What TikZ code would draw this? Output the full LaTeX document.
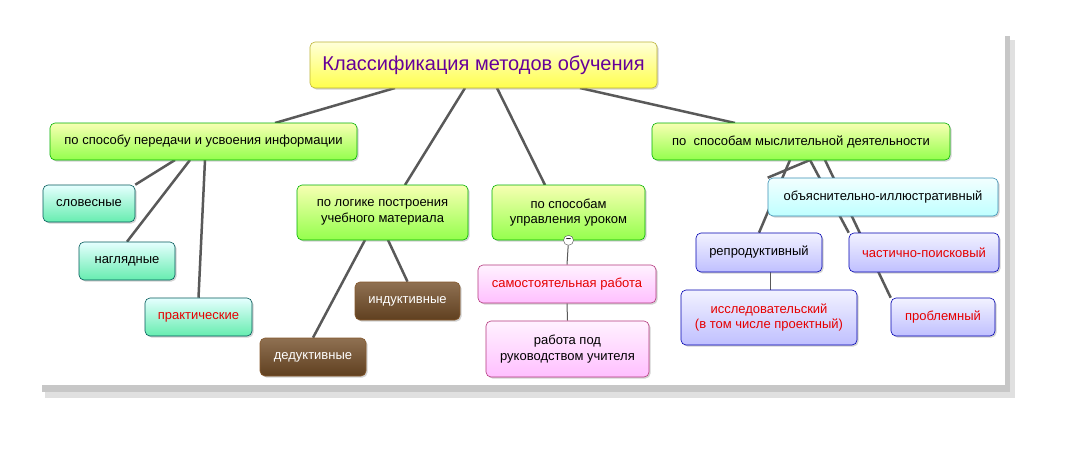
\documentclass[tikz,border=0pt]{standalone}
\usepackage{fontspec}
\setmainfont{Liberation Sans}
\usetikzlibrary{shadows,backgrounds}
\begin{document}
\begin{tikzpicture}[x=1pt,y=-1pt,
 bx/.style={rounded corners=5pt,draw=#1!70!black,line width=0.6pt,align=center,font=\fontsize{13}{15.5}\selectfont,drop shadow={shadow xshift=1.5pt,shadow yshift=-1.5pt,opacity=0.35},inner sep=0pt},
 grn/.style={bx=green,top color=green!10!yellow!30,bottom color=green!60!yellow!70},
 teal/.style={bx=teal,top color=cyan!10,bottom color=teal!40!cyan!60!green!60},
 brn/.style={bx=brown,top color=brown!60!black!80,bottom color=brown!50!black,text=white},
 pnk/.style={bx=magenta,top color=magenta!5,bottom color=magenta!25},
 lav/.style={bx=blue,top color=blue!5,bottom color=blue!25},
 lbl/.style={bx=cyan,top color=cyan!5,bottom color=cyan!25},
 ln/.style={draw=black!65,line width=2.5pt},
 thn/.style={draw=black!65,line width=1pt}]
\useasboundingbox (0,0) rectangle (1071,450);
% nodes
\node[bx=yellow,top color=yellow!15,bottom color=yellow!70,minimum width=347pt,minimum height=46pt,text=violet!80!blue,font=\fontsize{20}{23}\selectfont] (T) at (483.5,65) {Классификация методов обучения};
\node[grn,minimum width=307pt,minimum height=37pt] (A) at (203.5,141.5) {по способу передачи и усвоения информации};
\node[grn,minimum width=171pt,minimum height=55pt] (B) at (382.5,212.5) {по логике построения\\ учебного материала};
\node[grn,minimum width=153pt,minimum height=55pt] (C) at (568.5,212.5) {по способам\\управления уроком};
\node[grn,minimum width=298pt,minimum height=37pt] (D) at (801,141.5) {по\ \ способам мыслительной деятельности};
\node[teal,minimum width=92pt,minimum height=37pt] (s1) at (89,203.5) {словесные};
\node[teal,minimum width=96pt,minimum height=38pt] (s2) at (127,261) {наглядные};
\node[teal,minimum width=107pt,minimum height=38pt,text=red!90!black] (s3) at (198.5,317) {практические};
\node[brn,minimum width=105pt,minimum height=38pt] (b1) at (407.5,301) {индуктивные};
\node[brn,minimum width=106pt,minimum height=38pt] (b2) at (313,357) {дедуктивные};
\node[pnk,minimum width=178pt,minimum height=38pt,text=red!90!black] (c1) at (567,284) {самостоятельная работа};
\node[pnk,minimum width=163pt,minimum height=56pt] (c2) at (567.5,349) {работа под\\руководством учителя};
\node[lbl,minimum width=230pt,minimum height=38pt] (d0) at (883,197) {объяснительно-иллюстративный};
\node[lav,minimum width=126pt,minimum height=39pt] (d1) at (759,252.5) {репродуктивный};
\node[lav,minimum width=150pt,minimum height=39pt,text=red!90!black] (d2) at (924,252.5) {частично-поисковый};
\node[lav,minimum width=176pt,minimum height=55pt,text=red!90!black] (d3) at (769,317.5) {исследовательский\\(в том числе проектный)};
\node[lav,minimum width=104pt,minimum height=38pt,text=red!90!black] (d4) at (943,317) {проблемный};
\node[circle,draw=black!70,fill=white,inner sep=0pt,minimum size=10pt,font=\bfseries\fontsize{9}{9}\selectfont] (m) at (C.south) {--};
\coordinate (t1) at (395,88); \coordinate (t2) at (465,88); \coordinate (t3) at (497,88); \coordinate (t4) at (580,88);
\coordinate (a1) at (175,160); \coordinate (a2) at (190,160); \coordinate (a3) at (205,160);
\coordinate (dd) at (790,160); \coordinate (de) at (810,160); \coordinate (df) at (825,160);
\coordinate (bA) at (275,123); \coordinate (bB) at (405,185); \coordinate (bC) at (545,185); \coordinate (bD) at (735,123);
\coordinate (bb1) at (388,240); \coordinate (bb2) at (365,240);
\coordinate (r1) at (770,272); \coordinate (r2) at (770,290);
\begin{scope}[on background layer]
\fill[black!12] (45,40) rectangle (1015,398);
\fill[black!22] (42,36) rectangle (1010,392);
\fill[white] (35,30) rectangle (1005,385);
\draw[ln] (t1) -- (bA);
\draw[ln] (t2) -- (bB);
\draw[ln] (t3) -- (bC);
\draw[ln] (t4) -- (bD);
\draw[ln] (a1) -- (s1.north east);
\draw[ln] (a2) -- (s2.north);
\draw[ln] (a3) -- (s3.north);
\draw[ln] (bb1) -- (b1.north);
\draw[ln] (bb2) -- (b2.north);
\draw[thn] (m) -- (c1.north);
\draw[thn] (c1.south) -- (c2.north);
\draw[ln] (dd) -- (d1.north);
\draw[ln] (de) -- (d0.north west);
\draw[ln] (de) -- (d2.north west);
\draw[ln] (df) -- (d4.north west);
\draw[thn] (r1) -- (r2);
\end{scope}
\end{tikzpicture}
\end{document}
